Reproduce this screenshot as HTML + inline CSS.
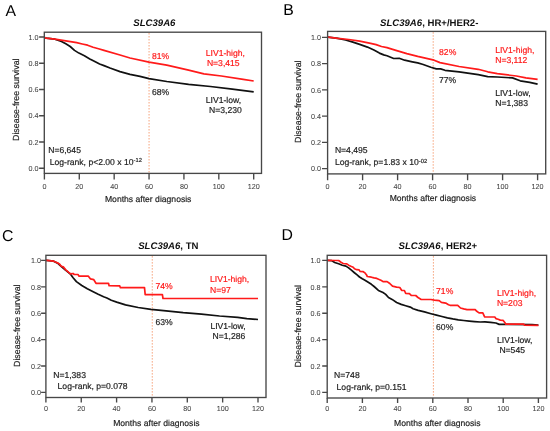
<!DOCTYPE html>
<html><head><meta charset="utf-8"><style>
html,body{margin:0;padding:0;background:#fff;}
body{width:550px;height:431px;overflow:hidden;}
svg{display:block;font-family:"Liberation Sans", sans-serif;will-change:transform;text-rendering:geometricPrecision;}
.m{font-size:8.6px;fill:#222;stroke:#222;stroke-width:0.18px;}
.m.r{fill:#ff1a1a;stroke:#ff1a1a;}
.yt{font-size:8.85px;fill:#222;stroke:#222;stroke-width:0.18px;}
.tl{font-size:7.2px;fill:#444;stroke:#444;stroke-width:0.05px;}
.ti{font-size:9.6px;font-weight:bold;fill:#111;}
.lt{font-size:15.8px;fill:#000;}
.dot{stroke:#f6a27a;stroke-width:1px;stroke-dasharray:1.5 1.5;}
.kb{fill:none;stroke:#111;stroke-width:1.7px;stroke-linejoin:round;}
.kr{fill:none;stroke:#ff1a1a;stroke-width:1.7px;stroke-linejoin:round;}
.box{fill:none;stroke:#474747;stroke-width:1.35px;}
.tick{fill:none;stroke:#474747;stroke-width:1.35px;}
</style></head><body>
<svg width="550" height="431" viewBox="0 0 550 431">
<rect width="550" height="431" fill="#fff"/>
<g><line class="dot" x1="149.05" y1="33" x2="149.05" y2="172.6"/>
<polyline class="kb" points="44.4,37.5 46.2,38.1 54.9,39.2 61.5,41.4 65.8,43.8 70.2,46.5 74.5,50.4 78.9,53.1 84.4,55.8 89.8,58.9 95.3,61.8 99.6,64 104,65.6 110,68 120,71.6 130,74.4 140,76.4 149,78.6 166.8,81.5 188.6,84.3 210.5,86.5 232.3,89.1 253.7,91.9"/>
<polyline class="kr" points="44.4,37.5 46.2,38.1 54.9,39.2 65.8,40.8 76.7,42.7 82.2,44 87.6,45.2 93.1,47.3 98.5,48.7 104,50.4 120,55 130,58 149,62.2 166.8,65.1 188.6,70.1 203.9,73.8 221.4,76 243.2,79.3 253.7,81"/>
<rect class="box" x="44.3" y="32.2" width="217.2" height="141.2"/>
<text class="tl" x="38.6" y="170.9" text-anchor="end">0.0</text>
<text class="tl" x="38.6" y="144.66" text-anchor="end">0.2</text>
<text class="tl" x="38.6" y="118.42" text-anchor="end">0.4</text>
<text class="tl" x="38.6" y="92.18" text-anchor="end">0.6</text>
<text class="tl" x="38.6" y="65.94" text-anchor="end">0.8</text>
<text class="tl" x="38.6" y="39.7" text-anchor="end">1.0</text>
<text class="tl" x="44.4" y="188.7" text-anchor="middle">0</text>
<text class="tl" x="79.28" y="188.7" text-anchor="middle">20</text>
<text class="tl" x="114.17" y="188.7" text-anchor="middle">40</text>
<text class="tl" x="149.05" y="188.7" text-anchor="middle">60</text>
<text class="tl" x="183.93" y="188.7" text-anchor="middle">80</text>
<text class="tl" x="218.82" y="188.7" text-anchor="middle">100</text>
<text class="tl" x="253.7" y="188.7" text-anchor="middle">120</text>
<path class="tick" d="M39.1 168.2H44.3M39.1 141.96H44.3M39.1 115.72H44.3M39.1 89.48H44.3M39.1 63.24H44.3M39.1 37H44.3M44.4 173.4V179.5M79.28 173.4V179.5M114.17 173.4V179.5M149.05 173.4V179.5M183.93 173.4V179.5M218.82 173.4V179.5M253.7 173.4V179.5"/>
<text class="ti" x="133.3" y="25.6"><tspan font-style="italic">SLC39A6</tspan></text>
<text class="yt" transform="translate(19.4,99.7) rotate(-90)" text-anchor="middle">Disease-free survival</text>
<text class="m" x="148.2" y="201.5" text-anchor="middle">Months after diagnosis</text>
<text class="lt" x="5.4" y="16">A</text>
<text class="m r" x="152" y="59">81%</text>
<text class="m r" x="205.8" y="56.3">LIV1-high,</text>
<text class="m r" x="206.9" y="65.5">N=3,415</text>
<text class="m" x="152" y="94.9">68%</text>
<text class="m" x="205.8" y="103">LIV1-low,</text>
<text class="m" x="209.1" y="112.9">N=3,230</text>
<text class="m" x="48.2" y="153.1">N=6,645</text>
<text class="m" x="49.7" y="164.9">Log-rank, p<2.00 x 10<tspan font-size="5.8" dy="-2.6">-12</tspan></text></g>
<g><line class="dot" x1="433.2" y1="32.2" x2="433.2" y2="173.1"/>
<polyline class="kb" points="327.6,37.3 328.1,37.1 337.9,38.4 345.5,40 352.1,41.9 359.7,44.4 367.4,47.1 373.9,50.1 379.4,53.1 383.7,54.9 387,55.8 393.7,58.5 399.2,58.3 404.6,60.2 412.3,61.8 417.7,62.9 423.2,64.5 430.8,67.3 436.3,68.9 440.6,68.9 445,70.3 459.1,71.8 478.2,74.7 487.7,76.6 497.3,77 512.5,77.9 520.2,80.8 529.7,82.3 537.6,84.2"/>
<polyline class="kr" points="327.6,37.3 328.1,37.1 337.9,38.4 348.8,39.5 359.7,41.1 370.6,43.3 376.1,44.6 381.5,46.5 387,47.6 395.9,50.4 406.8,53.6 417.7,56.4 428.6,58.9 434.1,60.2 440,62.6 459.1,66.5 478.2,69.3 487.7,71.8 497.3,73.7 516.4,76 525.9,77.9 537.6,79.4"/>
<rect class="box" x="327.6" y="31.4" width="218.1" height="142.5"/>
<text class="tl" x="320.9" y="171.3" text-anchor="end">0.0</text>
<text class="tl" x="320.9" y="145.04" text-anchor="end">0.2</text>
<text class="tl" x="320.9" y="118.78" text-anchor="end">0.4</text>
<text class="tl" x="320.9" y="92.52" text-anchor="end">0.6</text>
<text class="tl" x="320.9" y="66.26" text-anchor="end">0.8</text>
<text class="tl" x="320.9" y="40" text-anchor="end">1.0</text>
<text class="tl" x="327.6" y="188.5" text-anchor="middle">0</text>
<text class="tl" x="362.6" y="188.5" text-anchor="middle">20</text>
<text class="tl" x="397.6" y="188.5" text-anchor="middle">40</text>
<text class="tl" x="432.6" y="188.5" text-anchor="middle">60</text>
<text class="tl" x="467.6" y="188.5" text-anchor="middle">80</text>
<text class="tl" x="502.6" y="188.5" text-anchor="middle">100</text>
<text class="tl" x="537.6" y="188.5" text-anchor="middle">120</text>
<path class="tick" d="M322 168.6H327.6M322 142.34H327.6M322 116.08H327.6M322 89.82H327.6M322 63.56H327.6M322 37.3H327.6M327.6 173.9V180.3M362.6 173.9V180.3M397.6 173.9V180.3M432.6 173.9V180.3M467.6 173.9V180.3M502.6 173.9V180.3M537.6 173.9V180.3"/>
<text class="ti" x="380" y="25.5"><tspan font-style="italic">SLC39A6</tspan><tspan>, HR+/HER2-</tspan></text>
<text class="yt" transform="translate(300.5,101.7) rotate(-90)" text-anchor="middle">Disease-free survival</text>
<text class="m" x="432.9" y="201.4" text-anchor="middle">Months after diagnosis</text>
<text class="lt" x="283.2" y="15.3">B</text>
<text class="m r" x="439.1" y="54.8">82%</text>
<text class="m r" x="495.2" y="53">LIV1-high,</text>
<text class="m r" x="495.2" y="63">N=3,112</text>
<text class="m" x="439" y="83">77%</text>
<text class="m" x="495.2" y="95.5">LIV1-low,</text>
<text class="m" x="495.2" y="105.7">N=1,383</text>
<text class="m" x="334.9" y="153.3">N=4,495</text>
<text class="m" x="334.9" y="165.2">Log-rank, p=1.83 x 10<tspan font-size="5.8" dy="-2.6">-02</tspan></text></g>
<g><line class="dot" x1="152.25" y1="256.1" x2="152.25" y2="396.7"/>
<polyline class="kb" points="45.9,260.4 46.6,260.4 53.7,261.2 58.1,263.6 60,265.3 65.5,270.2 70.4,274 73.1,277.8 76.4,281.6 81.8,285.5 87.3,288.7 92.7,291.5 98.2,294.2 103.6,296.7 106.9,298 111.3,300.2 116.7,302.1 125.5,304.9 138.2,307.5 150.9,309.4 163.6,310.6 183.2,312.7 201.4,314.2 219.5,316 237.7,317.3 246.8,318.7 258,319.5"/>
<polyline class="kr" points="45.9,260.4 46.6,260.4 53.7,261.2 55.4,262 58.1,263.1 59.7,264.2 61.4,266.4 63.3,266.9 65.5,269.6 68.7,272.4 70.4,273.8 73.1,273.5 74.2,274.5 78,274.5 79.1,276.2 88.4,276.2 90.5,278.9 93.8,279.7 96,283.3 108.5,283.3 109.1,285.7 119.7,285.8 120.4,287.7 144.5,287.7 145.2,294.7 162.4,294.7 163,298.5 258,298.5"/>
<rect class="box" x="45.9" y="255.3" width="220.1" height="142.2"/>
<text class="tl" x="41" y="395.1" text-anchor="end">0.0</text>
<text class="tl" x="41" y="368.7" text-anchor="end">0.2</text>
<text class="tl" x="41" y="342.3" text-anchor="end">0.4</text>
<text class="tl" x="41" y="315.9" text-anchor="end">0.6</text>
<text class="tl" x="41" y="289.5" text-anchor="end">0.8</text>
<text class="tl" x="41" y="263.1" text-anchor="end">1.0</text>
<text class="tl" x="45.9" y="411.4" text-anchor="middle">0</text>
<text class="tl" x="81.25" y="411.4" text-anchor="middle">20</text>
<text class="tl" x="116.6" y="411.4" text-anchor="middle">40</text>
<text class="tl" x="151.95" y="411.4" text-anchor="middle">60</text>
<text class="tl" x="187.3" y="411.4" text-anchor="middle">80</text>
<text class="tl" x="222.65" y="411.4" text-anchor="middle">100</text>
<text class="tl" x="258" y="411.4" text-anchor="middle">120</text>
<path class="tick" d="M41.1 392.4H45.9M41.1 366H45.9M41.1 339.6H45.9M41.1 313.2H45.9M41.1 286.8H45.9M41.1 260.4H45.9M45.9 397.5V402.5M81.25 397.5V402.5M116.6 397.5V402.5M151.95 397.5V402.5M187.3 397.5V402.5M222.65 397.5V402.5M258 397.5V402.5"/>
<text class="ti" x="138.2" y="249"><tspan font-style="italic">SLC39A6</tspan><tspan>, TN</tspan></text>
<text class="yt" transform="translate(19.6,325.7) rotate(-90)" text-anchor="middle">Disease-free survival</text>
<text class="m" x="156.4" y="425.5" text-anchor="middle">Months after diagnosis</text>
<text class="lt" x="2" y="240.8">C</text>
<text class="m r" x="155.5" y="288.6">74%</text>
<text class="m r" x="210" y="281.5">LIV1-high,</text>
<text class="m r" x="210" y="292.5">N=97</text>
<text class="m" x="155.5" y="324.8">63%</text>
<text class="m" x="210.4" y="329.2">LIV1-low,</text>
<text class="m" x="212.6" y="338.8">N=1,286</text>
<text class="m" x="53.2" y="378.1">N=1,383</text>
<text class="m" x="57.6" y="389.1">Log-rank, p=0.078</text></g>
<g><line class="dot" x1="433.4" y1="256.1" x2="433.4" y2="397.2"/>
<polyline class="kb" points="327.2,260.4 331.5,260.6 334.7,262.5 338.6,263.8 342.3,265.2 345.9,266.1 348.6,267.9 351.4,270.2 354.1,272.5 356.8,274.7 359.5,277 362.3,278.8 365,280.2 368.6,282.5 371.4,284.3 374.1,286.5 378.4,290.4 383,292.5 385.7,294.4 388.5,297.5 392.1,299.4 396.6,302.5 401.2,304.4 405.7,305.7 410.3,307.1 413.1,308.7 418.2,310.4 424.5,311.9 431,313.7 436.5,315.1 441.9,316.5 447.4,317.8 452.8,318.9 458.3,319.8 463.7,320.5 469.2,321.1 474.6,321.6 480.1,322 485,321.9 490.5,322.3 495.9,323 499.2,324.4 531.9,324.6 538.4,325.2"/>
<polyline class="kr" points="327.2,260.4 335,260.5 338.6,260.5 340,261.5 341.4,262.6 343.2,263.5 346.8,263.8 348.6,265.2 351.4,266.5 353.2,267.2 354.5,268.8 356.8,269.7 359.1,269.9 360,271.4 363.2,271.7 365,272.9 366.4,274.7 367.3,276.5 371.4,277.2 374.1,277.9 376.8,278.4 378.6,279.3 381.4,280.5 383,281.6 387.1,281.6 389.8,283.5 392.5,286.2 396.6,287.1 399.8,287.5 401.6,290.3 404.4,290.5 405.7,293.3 409.4,293.6 411.2,295.3 415.7,295.5 418,297.5 421.2,299.4 431,299.5 434.3,300.1 439.2,300.6 441.4,302.3 445.7,303.1 448.5,304.7 450.1,305.3 457.7,305.3 460.5,308 463.7,308.9 467,309.6 475.2,309.6 476.8,311.3 479,312.9 482.8,312.9 484.5,316.7 485,317 494.8,317 495.9,318.6 498.1,319.2 500.3,320.1 503,320.3 505.2,323 505.7,324.1 523.7,324.1 524.5,325.2 538.4,325.4"/>
<rect class="box" x="327.2" y="255.3" width="219.4" height="142.7"/>
<text class="tl" x="320.5" y="395.1" text-anchor="end">0.0</text>
<text class="tl" x="320.5" y="368.7" text-anchor="end">0.2</text>
<text class="tl" x="320.5" y="342.3" text-anchor="end">0.4</text>
<text class="tl" x="320.5" y="315.9" text-anchor="end">0.6</text>
<text class="tl" x="320.5" y="289.5" text-anchor="end">0.8</text>
<text class="tl" x="320.5" y="263.1" text-anchor="end">1.0</text>
<text class="tl" x="327.2" y="411.4" text-anchor="middle">0</text>
<text class="tl" x="362.4" y="411.4" text-anchor="middle">20</text>
<text class="tl" x="397.6" y="411.4" text-anchor="middle">40</text>
<text class="tl" x="432.8" y="411.4" text-anchor="middle">60</text>
<text class="tl" x="468" y="411.4" text-anchor="middle">80</text>
<text class="tl" x="503.2" y="411.4" text-anchor="middle">100</text>
<text class="tl" x="538.4" y="411.4" text-anchor="middle">120</text>
<path class="tick" d="M322.2 392.4H327.2M322.2 366H327.2M322.2 339.6H327.2M322.2 313.2H327.2M322.2 286.8H327.2M322.2 260.4H327.2M327.2 398V403M362.4 398V403M397.6 398V403M432.8 398V403M468 398V403M503.2 398V403M538.4 398V403"/>
<text class="ti" x="398.5" y="249"><tspan font-style="italic">SLC39A6</tspan><tspan>, HER2+</tspan></text>
<text class="yt" transform="translate(301.4,326.2) rotate(-90)" text-anchor="middle">Disease-free survival</text>
<text class="m" x="437.3" y="425.5" text-anchor="middle">Months after diagnosis</text>
<text class="lt" x="281.6" y="240.3">D</text>
<text class="m r" x="436.1" y="294.2">71%</text>
<text class="m r" x="496.9" y="296">LIV1-high,</text>
<text class="m r" x="496.9" y="305.8">N=203</text>
<text class="m" x="436.1" y="330.2">60%</text>
<text class="m" x="497.1" y="343.3">LIV1-low,</text>
<text class="m" x="499.4" y="353.3">N=545</text>
<text class="m" x="334.1" y="378.3">N=748</text>
<text class="m" x="336.6" y="390.2">Log-rank, p=0.151</text></g>
</svg>
</body></html>
